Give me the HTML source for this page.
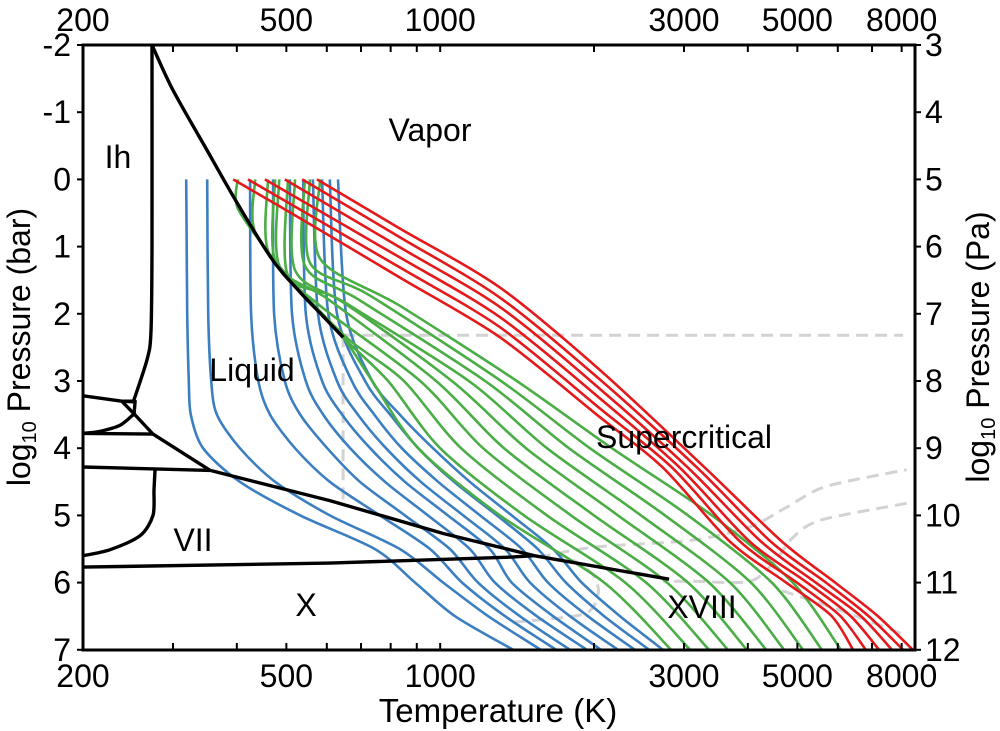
<!DOCTYPE html>
<html><head><meta charset="utf-8"><style>
html,body{margin:0;padding:0;background:#fff}
svg{display:block}
text{font-family:"Liberation Sans",Arial,sans-serif;fill:#000}
</style></head><body>
<svg id="chart" width="1000" height="731" viewBox="0 0 1000 731" xmlns="http://www.w3.org/2000/svg">
<defs><clipPath id="plotclip"><rect x="83" y="45" width="832" height="605"/></clipPath></defs>
<g id="gray-layer" clip-path="url(#plotclip)"></g>
<g id="series-layer" clip-path="url(#plotclip)"></g>
<g id="phase-layer" clip-path="url(#plotclip)"></g>
<g id="axes-layer"></g>
<g font-size="32">
<text x="118" y="168" text-anchor="middle">Ih</text>
<text x="430" y="141" text-anchor="middle">Vapor</text>
<text x="252" y="381" text-anchor="middle">Liquid</text>
<text x="684" y="448" text-anchor="middle">Supercritical</text>
<text x="193" y="551" text-anchor="middle">VII</text>
<text x="306" y="616" text-anchor="middle">X</text>
<text x="702" y="618" text-anchor="middle">XVIII</text>
</g>
<text x="498" y="722" font-size="33" text-anchor="middle">Temperature (K)</text>
<text transform="translate(30,347) rotate(-90)" font-size="32" text-anchor="middle">log<tspan font-size="20" dy="6">10</tspan><tspan dy="-6"> Pressure (bar)</tspan></text>
<text transform="translate(989,347) rotate(-90)" font-size="32" text-anchor="middle">log<tspan font-size="20" dy="6">10</tspan><tspan dy="-6"> Pressure (Pa)</tspan></text>
</svg>
<script>
// ---- axis tick data ----
const xTickLabels = [200, 500, 1000, 3000, 5000, 8000];
const xMinorTicks = [300, 400, 600, 700, 800, 900, 2000, 4000, 6000, 7000];
const yTickBar = [-2, -1, 0, 1, 2, 3, 4, 5, 6, 7];
const yTickPa = [3, 4, 5, 6, 7, 8, 9, 10, 11, 12];

// ---- blue series: log10 T (K) at shared pressure levels ----
const blueP = [0, 2, 3, 3.5, 4, 4.5, 5, 5.5, 6, 6.5, 7];
const blueLogT = [
 [2.503,2.505,2.508,2.512,2.536,2.608,2.726,2.872,2.951,3.029,3.143],
 [2.544,2.546,2.552,2.563,2.608,2.677,2.784,2.921,3.006,3.094,3.197],
 [2.628,2.630,2.644,2.667,2.716,2.784,2.882,2.980,3.043,3.127,3.227],
 [2.673,2.675,2.696,2.726,2.779,2.843,2.931,3.019,3.074,3.156,3.254],
 [2.706,2.710,2.737,2.771,2.824,2.892,2.976,3.058,3.107,3.189,3.287],
 [2.732,2.737,2.769,2.808,2.863,2.931,3.015,3.097,3.140,3.221,3.315],
 [2.751,2.761,2.798,2.839,2.894,2.962,3.045,3.127,3.176,3.254,3.348],
 [2.769,2.781,2.827,2.871,2.925,2.996,3.078,3.160,3.211,3.289,3.381],
 [2.784,2.798,2.853,2.902,2.957,3.027,3.111,3.191,3.246,3.321,3.409],
 [2.800,2.816,2.867,2.921,2.986,3.058,3.140,3.221,3.277,3.352,3.436]
];

// ---- green series ----
const greenLogT = [
 [2.604,2.604,2.673,2.726,2.810,2.867,2.957,3.117,3.321,3.452],
 [2.638,2.638,2.726,2.810,2.898,3.000,3.164,3.362,3.489],
 [2.663,2.663,2.745,2.824,2.929,3.041,3.209,3.403,3.526],
 [2.677,2.677,2.765,2.961,3.084,3.256,3.444,3.563],
 [2.685,2.685,2.784,2.992,3.125,3.301,3.485,3.600],
 [2.702,2.702,2.804,3.023,3.168,3.348,3.526,3.638],
 [2.716,2.716,2.824,3.056,3.209,3.393,3.567,3.673],
 [2.735,2.735,2.843,3.088,3.252,3.440,3.608,3.710],
 [2.745,2.745,2.863,3.119,3.293,3.485,3.649,3.747],
 [2.765,2.765,2.921,3.150,3.336,3.532,3.690,3.784]
];
const greenP = [
 [0,0.43,1.18,1.65,2.35,3,4,5,6,7],
 [0,0.79,1.65,2.35,3,4,5,6,7],
 [0,1.06,1.80,2.40,3,4,5,6,7],
 [0,1.21,1.88,3,4,5,6,7],
 [0,1.28,1.80,3,4,5,6,7],
 [0,1.43,1.80,3,4,5,6,7],
 [0,1.35,1.88,3,4,5,6,7],
 [0,1.28,1.80,3,4,5,6,7],
 [0,1.24,1.73,3,4,5,6,7],
 [0,1.18,1.88,3,4,5,6,7]
];

// ---- red series ----
const redLogT = [
 [2.595,2.726,2.921,3.117,3.313,3.436,3.567,3.677,3.765,3.808],
 [2.624,2.921,3.117,3.313,3.454,3.587,3.698,3.782,3.833],
 [2.657,2.921,3.117,3.313,3.469,3.606,3.718,3.802,3.859],
 [2.696,2.921,3.117,3.313,3.485,3.628,3.735,3.822,3.884],
 [2.730,2.921,3.117,3.313,3.503,3.647,3.755,3.837,3.906],
 [2.759,2.921,3.117,3.313,3.518,3.669,3.773,3.855,3.925]
];
const redP = [
 [0,0.58,1.46,2.35,3.54,4.29,5.39,6,6.49,7],
 [0,1.31,2.20,3.41,4.29,5.39,6,6.49,7],
 [0,1.16,2.05,3.26,4.29,5.39,6,6.49,7],
 [0,1.01,1.90,3.12,4.29,5.39,6,6.49,7],
 [0,0.86,1.76,2.98,4.29,5.39,6,6.49,7],
 [0,0.73,1.61,2.84,4.29,5.39,6,6.49,7]
];

// ---- phase boundaries (log10 T, log10 P) ----
const boundaryNames = ['ih-melting','vapor-curve','ih-iii-line','triple-triangle','iii-v-curve','v-vi-line','liquid-vii-melting','vi-vii-line','vii-inner-curve','vii-x-line'];
const boundaryLogT = [
 [2.436,2.436,2.434,2.426,2.399],
 [2.436,2.477,2.544,2.608,2.673,2.726,2.765,2.810],
 [2.301,2.377,2.399],
 [2.377,2.403,2.401,2.377],
 [2.301,2.334,2.373,2.401],
 [2.301,2.438],
 [2.401,2.438,2.550,2.784,3.006,3.184,3.448],
 [2.301,2.550],
 [2.442,2.440,2.438,2.413,2.354,2.301],
 [2.301,2.784,3.139,3.184]
];
const boundaryP = [
 [-2,1.06,2.29,2.69,3.32],
 [-2,-1.33,-0.43,0.42,1.21,1.68,1.99,2.35],
 [3.22,3.30,3.31],
 [3.30,3.30,3.49,3.30],
 [3.78,3.75,3.66,3.49],
 [3.78,3.79],
 [3.49,3.79,4.33,4.78,5.27,5.60,5.95],
 [4.28,4.33],
 [4.33,4.62,5.00,5.30,5.51,5.60],
 [5.77,5.71,5.62,5.60]
];
const boundarySmooth = [true,true,false,false,true,false,false,false,true,false];

// ---- gray dashed reference lines ----
const dashLogT = [
 [2.810,3.906],
 [2.810,2.810],
 [3.193,3.304,3.492,3.606,3.680,3.755,3.913],
 [3.913,3.745,3.690,3.655,3.606,3.497,3.436],
 [3.143,3.280,3.309,3.299,3.260],
 [3.669,3.786,3.913]
];
const dashP = [
 [2.32,2.32],
 [2.32,4.78],
 [5.62,5.47,5.37,5.17,4.87,4.57,4.32],
 [4.82,5.07,5.33,5.68,5.98,5.98,5.98],
 [6.59,6.47,6.17,5.88,5.66],
 [6.12,6.42,6.79]
];

// ---- axis functions ----
const X0 = 83, XW = 511, Y0 = 45, YS = 67.2;
function xOfLogT(lt){ return X0 + (lt - Math.log10(200)) * XW; }
function xOfT(t){ return xOfLogT(Math.log10(t)); }
function yOfP(p){ return Y0 + (p + 2) * YS; }

const NS = 'http://www.w3.org/2000/svg';
function mk(tag, attrs){ const e = document.createElementNS(NS, tag); for (const k in attrs) e.setAttribute(k, attrs[k]); return e; }

function smoothPath(pts){
  if (pts.length < 3) return 'M' + pts.map(p => p[0].toFixed(1) + ',' + p[1].toFixed(1)).join(' L');
  let d = 'M' + pts[0][0].toFixed(1) + ',' + pts[0][1].toFixed(1);
  const k = 1/7;
  for (let i = 0; i < pts.length - 1; i++){
    const p0 = pts[i-1] || pts[i], p1 = pts[i], p2 = pts[i+1], p3 = pts[i+2] || p2;
    const c1x = p1[0] + (p2[0]-p0[0])*k, c1y = p1[1] + (p2[1]-p0[1])*k;
    const c2x = p2[0] - (p3[0]-p1[0])*k, c2y = p2[1] - (p3[1]-p1[1])*k;
    d += ' C' + c1x.toFixed(1)+','+c1y.toFixed(1)+' '+c2x.toFixed(1)+','+c2y.toFixed(1)+' '+p2[0].toFixed(1)+','+p2[1].toFixed(1);
  }
  return d;
}
function linePath(pts){ return 'M' + pts.map(p => p[0].toFixed(1) + ',' + p[1].toFixed(1)).join(' L'); }

const gray = document.getElementById('gray-layer');
dashLogT.forEach((ts, i) => {
  const pts = ts.map((t, j) => [xOfLogT(t), yOfP(dashP[i][j])]);
  const el = mk('path', {d: smoothPath(pts), fill:'none', stroke:'#d3d3d3', 'stroke-width':3, 'stroke-dasharray':'12 7'});
  
  
  gray.appendChild(el);
});

const series = document.getElementById('series-layer');
blueLogT.forEach((ts, i) => {
  const pts = ts.map((t, j) => [xOfLogT(t), yOfP(blueP[j])]);
  const el = mk('path', {d: smoothPath(pts), fill:'none', stroke:'#3c7fc0', 'stroke-width':2.6});
  
  
  series.appendChild(el);
});
greenLogT.forEach((ts, i) => {
  const pts = ts.map((t, j) => [xOfLogT(t), yOfP(greenP[i][j])]);
  const el = mk('path', {d: smoothPath(pts), fill:'none', stroke:'#4aad45', 'stroke-width':2.6});
  
  
  series.appendChild(el);
});
redLogT.forEach((ts, i) => {
  const pts = ts.map((t, j) => [xOfLogT(t), yOfP(redP[i][j])]);
  const el = mk('path', {d: smoothPath(pts), fill:'none', stroke:'#e5191b', 'stroke-width':2.6});
  
  
  series.appendChild(el);
});

const phase = document.getElementById('phase-layer');
boundaryLogT.forEach((ts, i) => {
  const pts = ts.map((t, j) => [xOfLogT(t), yOfP(boundaryP[i][j])]);
  const el = mk('path', {d: boundarySmooth[i] ? smoothPath(pts) : linePath(pts), fill:'none', stroke:'#000', 'stroke-width':3.4, 'stroke-linejoin':'round'});
  
  
  phase.appendChild(el);
});

// ---- axes ----
const axes = document.getElementById('axes-layer');
const frame = mk('rect', {x:83, y:45, width:832, height:605, fill:'none', stroke:'#000', 'stroke-width':3});


axes.appendChild(frame);

xTickLabels.concat(xMinorTicks).forEach(t => {
  const x = xOfT(t);
  const tb = mk('line', {x1:x, x2:x, y1:650, y2:643, stroke:'#000', 'stroke-width':2});
  
  
  axes.appendChild(tb);
  const tt = mk('line', {x1:x, x2:x, y1:45, y2:52, stroke:'#000', 'stroke-width':2});
  
  
  axes.appendChild(tt);
});
xTickLabels.forEach(t => {
  const x = xOfT(t);
  const lb = mk('text', {x:x, y:687, 'font-size':32, 'text-anchor':'middle'});
  lb.textContent = String(t);
  
  
  axes.appendChild(lb);
  const lt = mk('text', {x:x, y:31, 'font-size':32, 'text-anchor':'middle'});
  lt.textContent = String(t);
  
  
  axes.appendChild(lt);
});
yTickBar.forEach((p, i) => {
  const y = yOfP(p);
  const tl = mk('line', {x1:77, x2:83, y1:y, y2:y, stroke:'#000', 'stroke-width':2});
  
  
  axes.appendChild(tl);
  const tr = mk('line', {x1:915, x2:921, y1:y, y2:y, stroke:'#000', 'stroke-width':2});
  
  
  axes.appendChild(tr);
  const ll = mk('text', {x:71, y:y+11, 'font-size':32, 'text-anchor':'end'});
  ll.textContent = String(p);
  
  
  axes.appendChild(ll);
  const rl = mk('text', {x:925, y:y+11, 'font-size':32, 'text-anchor':'start'});
  rl.textContent = String(yTickPa[i]);
  
  
  axes.appendChild(rl);
});
</script>
</body></html>
